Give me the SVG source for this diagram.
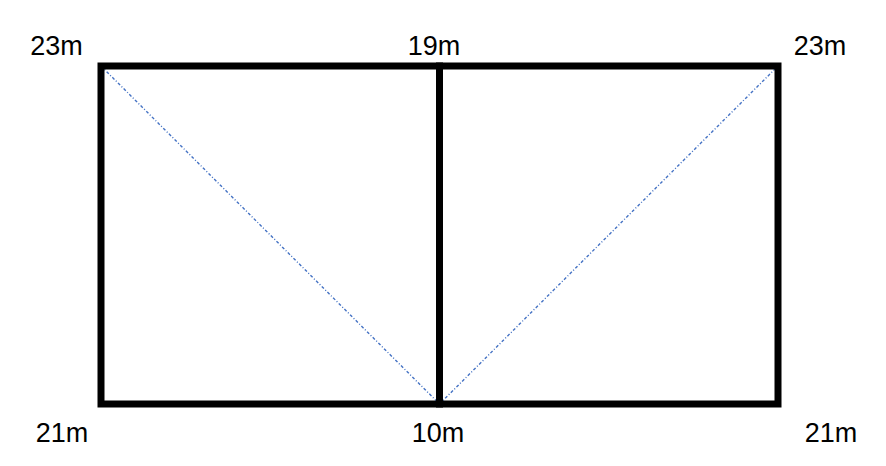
<svg xmlns="http://www.w3.org/2000/svg" width="886" height="466" viewBox="0 0 886 466">
<style>
.sq{fill:none;stroke:#000;stroke-width:7;stroke-linejoin:miter}
.diag{stroke:#4472C4;stroke-width:1.4;stroke-dasharray:3 2 1 2;fill:none}
.lbl{font-family:"Liberation Sans",Arial,sans-serif;font-size:27px;fill:#000;text-anchor:middle}
</style>
<rect width="886" height="466" fill="#fff"/>
<g id="connectors">
<line class="diag" x1="101" y1="66" x2="439.5" y2="404"/>
<line class="diag" x1="439.5" y1="404" x2="778" y2="66"/>
</g>
<g id="left-square"><rect class="sq" x="101" y="66" width="338.5" height="338"/></g>
<g id="right-square"><rect class="sq" x="439.5" y="66" width="338.5" height="338"/></g>
<g id="labels">
<text class="lbl" x="56.5" y="55">23m</text>
<text class="lbl" x="434" y="55">19m</text>
<text class="lbl" x="820" y="55">23m</text>
<text class="lbl" x="62" y="442">21m</text>
<text class="lbl" x="438" y="442">10m</text>
<text class="lbl" x="831" y="442">21m</text>
</g>
</svg>
